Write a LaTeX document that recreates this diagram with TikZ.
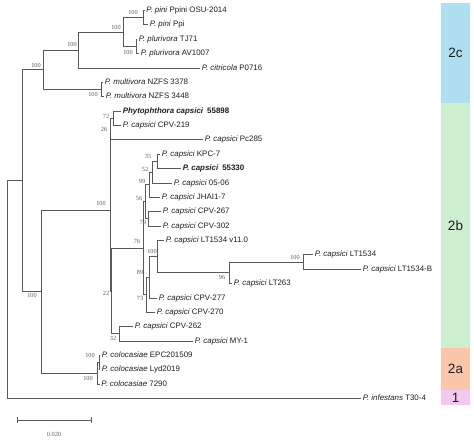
\documentclass[tikz,border=0pt]{standalone}
\usepackage{fontspec}
\setmainfont{Liberation Sans}
\newfontfamily\bsfont{Liberation Serif}
\definecolor{treegray}{RGB}{90,90,90}
\definecolor{txt}{RGB}{30,30,30}
\definecolor{c2c}{RGB}{174,222,240}
\definecolor{c2b}{RGB}{206,238,208}
\definecolor{c2a}{RGB}{250,198,170}
\definecolor{cone}{RGB}{244,200,240}
\begin{document}
\begin{tikzpicture}[x=1pt,y=-1pt,
  leaf/.style={anchor=west,inner xsep=1.6pt,inner ysep=0pt,text height=5.8pt,text depth=1.6pt,font=\fontsize{7.9}{9}\selectfont,text=txt},
  bs/.style={font=\bsfont\fontsize{6.3}{7}\selectfont,inner sep=0pt,text=treegray},
  br/.style={draw=treegray,line width=0.75pt},
  grp/.style={minimum width=29pt,inner sep=0pt,font=\fontsize{13.5}{15}\selectfont,text=txt}]
\useasboundingbox (0,0) rectangle (474,441);
% internal nodes
\coordinate (root) at (7,289.6);
\coordinate (B) at (22,180.74);
\coordinate (c2) at (43,69.78);
\coordinate (ppc) at (78,50.02);
\coordinate (pp) at (123,32.06);
\coordinate (pini) at (143,17.69);
\coordinate (plur) at (136,46.43);
\coordinate (mult) at (101,89.54);
\coordinate (D) at (41,291.7);
\coordinate (b2) at (110,210.05);
\coordinate (n26) at (110.5,129.05);
\coordinate (n72) at (113,118.28);
\coordinate (n22) at (111,291.05);
\coordinate (n76) at (143.5,248.28);
\coordinate (n56) at (145.5,201.8);
\coordinate (n99) at (149.5,184.74);
\coordinate (n52) at (152,172.16);
\coordinate (n35) at (157,161.39);
\coordinate (n79) at (148,218.87);
\coordinate (n73) at (146,294.76);
\coordinate (n89) at (149,277.24);
\coordinate (n100) at (157,256.59);
\coordinate (n96) at (229,272.75);
\coordinate (nLT) at (303,261.98);
\coordinate (n32) at (119,333.83);
\coordinate (colB) at (97,373.34);
\coordinate (colA) at (99,362.57);
% leaves
\node[leaf] (l1) at (144.5,10.5) {\textit{P. pini} Ppini OSU-2014};
\node[leaf] (l2) at (148,24.87) {\textit{P. pini} Ppi};
\node[leaf] (l3) at (137,39.24) {\textit{P. plurivora} TJ71};
\node[leaf] (l4) at (139,53.61) {\textit{P. plurivora} AV1007};
\node[leaf] (l5) at (200,67.98) {\textit{P. citricola} P0716};
\node[leaf] (l6) at (103,82.35) {\textit{P. multivora} NZFS 3378};
\node[leaf] (l7) at (104,96.72) {\textit{P. multivora} NZFS 3448};
\node[leaf] (l8) at (121,111.09) {\textbf{\textit{Phytophthora capsici}}\enspace\textbf{55898}};
\node[leaf] (l9) at (121,125.46) {\textit{P. capsici} CPV-219};
\node[leaf] (l10) at (203,139.83) {\textit{P. capsici} Pc285};
\node[leaf] (l11) at (160,154.2) {\textit{P. capsici} KPC-7};
\node[leaf] (l12) at (181,168.57) {\textbf{\textit{P. capsici}}\enspace\textbf{55330}};
\node[leaf] (l13) at (172,182.94) {\textit{P. capsici} 05-06};
\node[leaf] (l14) at (160,197.31) {\textit{P. capsici} JHAI1-7};
\node[leaf] (l15) at (161,211.68) {\textit{P. capsici} CPV-267};
\node[leaf] (l16) at (161,226.05) {\textit{P. capsici} CPV-302};
\node[leaf] (l17) at (164,240.42) {\textit{P. capsici} LT1534 v11.0};
\node[leaf] (l18) at (313,254.79) {\textit{P. capsici} LT1534};
\node[leaf] (l19) at (361,269.16) {\textit{P. capsici} LT1534-B};
\node[leaf] (l20) at (232,283.53) {\textit{P. capsici} LT263};
\node[leaf] (l21) at (157,297.9) {\textit{P. capsici} CPV-277};
\node[leaf] (l22) at (155,312.27) {\textit{P. capsici} CPV-270};
\node[leaf] (l23) at (133,326.64) {\textit{P. capsici} CPV-262};
\node[leaf] (l24) at (193,341.01) {\textit{P. capsici} MY-1};
\node[leaf] (l25) at (100,355.38) {\textit{P. colocasiae} EPC201509};
\node[leaf] (l26) at (100,369.75) {\textit{P. colocasiae} Lyd2019};
\node[leaf] (l27) at (99.5,384.12) {\textit{P. colocasiae} 7290};
\node[leaf] (l28) at (361,398.49) {\textit{P. infestans} T30-4};
% branches
\draw[br] (root) |- (B); \draw[br] (root) |- (l28);
\draw[br] (B) |- (c2); \draw[br] (B) |- (D);
\draw[br] (c2) |- (ppc); \draw[br] (c2) |- (mult);
\draw[br] (ppc) |- (pp); \draw[br] (ppc) |- (l5);
\draw[br] (pp) |- (pini); \draw[br] (pp) |- (plur);
\draw[br] (pini) |- (l1); \draw[br] (pini) |- (l2);
\draw[br] (plur) |- (l3); \draw[br] (plur) |- (l4);
\draw[br] (mult) |- (l6); \draw[br] (mult) |- (l7);
\draw[br] (D) |- (b2); \draw[br] (D) |- (colB);
\draw[br] (b2) |- (n26); \draw[br] (b2) |- (n22);
\draw[br] (n26) |- (n72); \draw[br] (n26) |- (l10);
\draw[br] (n72) |- (l8); \draw[br] (n72) |- (l9);
\draw[br] (n22) |- (n76); \draw[br] (n22) |- (n32);
\draw[br] (n76) |- (n56); \draw[br] (n76) |- (n73);
\draw[br] (n56) |- (n99); \draw[br] (n56) |- (n79);
\draw[br] (n99) |- (n52); \draw[br] (n99) |- (l14);
\draw[br] (n52) |- (n35); \draw[br] (n52) |- (l13);
\draw[br] (n35) |- (l11); \draw[br] (n35) |- (l12);
\draw[br] (n79) |- (l15); \draw[br] (n79) |- (l16);
\draw[br] (n73) |- (n89); \draw[br] (n73) |- (l22);
\draw[br] (n89) |- (n100); \draw[br] (n89) |- (l21);
\draw[br] (n100) |- (l17); \draw[br] (n100) |- (n96);
\draw[br] (n96) |- (nLT); \draw[br] (n96) |- (l20);
\draw[br] (nLT) |- (l18); \draw[br] (nLT) |- (l19);
\draw[br] (n32) |- (l23); \draw[br] (n32) |- (l24);
\draw[br] (colB) |- (colA); \draw[br] (colB) |- (l27);
\draw[br] (colA) |- (l25); \draw[br] (colA) |- (l26);
% bootstrap values
\node[bs] (bpini) at (133,12) {100};
\node[bs] (bplur) at (128,52) {100};
\node[bs] (bpp) at (116,27) {100};
\node[bs] (bppc) at (72,44) {100};
\node[bs] (bc2) at (36,65) {100};
\node[bs] (bmult) at (93,94) {100};
\node[bs] (b72) at (106,116) {72};
\node[bs] (b26) at (104,129) {26};
\node[bs] (bb2) at (101,203) {100};
\node[bs] (b35) at (148,156) {35};
\node[bs] (b52) at (145,169) {52};
\node[bs] (b99) at (142,181) {99};
\node[bs] (b56) at (139,198) {56};
\node[bs] (b79) at (143,222) {79};
\node[bs] (b76) at (137,241) {76};
\node[bs] (b100) at (152,251) {100};
\node[bs] (b89) at (140,272) {89};
\node[bs] (b96) at (222,277) {96};
\node[bs] (bLT) at (295,257) {100};
\node[bs] (b73) at (140,298) {73};
\node[bs] (b22) at (106,293) {22};
\node[bs] (b32) at (113,338) {32};
\node[bs] (bcolA) at (90,355) {100};
\node[bs] (bcolB) at (88,378) {100};
\node[bs] (bD) at (32,295) {100};
% scale bar
\coordinate (sb1) at (17,420);
\coordinate (sb2) at (91,420);
\draw[br] (sb1) -- (sb2);
\draw[br] ([yshift=3pt]sb1) -- ([yshift=-3pt]sb1);
\draw[br] ([yshift=3pt]sb2) -- ([yshift=-3pt]sb2);
\node[bs] (sblab) at (54,434) {0.020};
% group bar
\node[grp,fill=c2c,minimum height=100pt] (g2c) at (455.5,53) {2c};
\node[grp,fill=c2b,minimum height=245pt] (g2b) at (455.5,225.5) {2b};
\node[grp,fill=c2a,minimum height=42pt] (g2a) at (455.5,369) {2a};
\node[grp,fill=cone,minimum height=15pt] (g1) at (455.5,397.5) {1};
\end{tikzpicture}
\end{document}
